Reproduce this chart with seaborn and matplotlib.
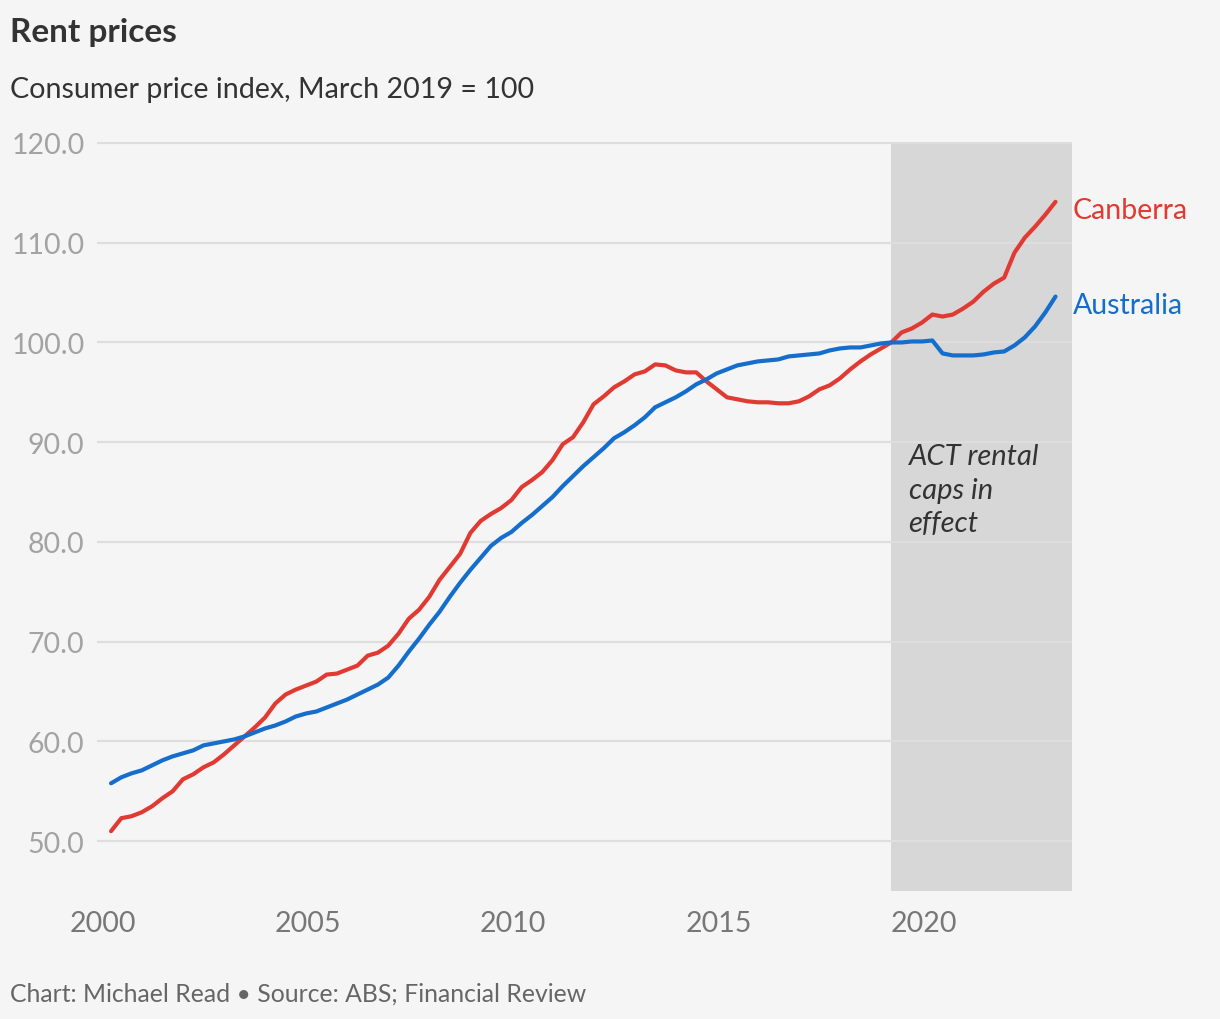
import pandas as pd
import numpy as np
import seaborn as sns
import matplotlib.pyplot as plt

# -----------------------------------------------
# Data: rent CPI, quarterly Mar 2000 - Mar 2023 (Mar 2019 = 100)
# -----------------------------------------------
canberra = [
    51.0, 52.3, 52.5, 52.9,
    53.5, 54.3, 55.0, 56.2,
    56.7, 57.4, 57.9, 58.7,
    59.6, 60.5, 61.4, 62.4,
    63.8, 64.7, 65.2, 65.6,
    66.0, 66.7, 66.8, 67.2,
    67.6, 68.6, 68.9, 69.6,
    70.8, 72.3, 73.2, 74.5,
    76.2, 77.5, 78.8, 80.9,
    82.1, 82.8, 83.4, 84.2,
    85.5, 86.2, 87.0, 88.2,
    89.8, 90.5, 92.0, 93.8,
    94.6, 95.5, 96.1, 96.8,
    97.1, 97.8, 97.7, 97.2,
    97.0, 97.0, 96.1, 95.3,
    94.5, 94.3, 94.1, 94.0,
    94.0, 93.9, 93.9, 94.1,
    94.6, 95.3, 95.7, 96.4,
    97.3, 98.1, 98.8, 99.4,
    100.0, 101.0, 101.4, 102.0,
    102.8, 102.6, 102.8, 103.4,
    104.1, 105.1, 105.9, 106.5,
    109.0, 110.5, 111.6, 112.8,
    114.1,
]

australia = [
    55.8, 56.4, 56.8, 57.1,
    57.6, 58.1, 58.5, 58.8,
    59.1, 59.6, 59.8, 60.0,
    60.2, 60.5, 60.9, 61.3,
    61.6, 62.0, 62.5, 62.8,
    63.0, 63.4, 63.8, 64.2,
    64.7, 65.2, 65.7, 66.4,
    67.6, 69.0, 70.3, 71.7,
    73.0, 74.5, 75.9, 77.2,
    78.4, 79.6, 80.4, 81.0,
    81.9, 82.7, 83.6, 84.5,
    85.6, 86.6, 87.6, 88.5,
    89.4, 90.4, 91.0, 91.7,
    92.5, 93.5, 94.0, 94.5,
    95.1, 95.8, 96.3, 96.9,
    97.3, 97.7, 97.9, 98.1,
    98.2, 98.3, 98.6, 98.7,
    98.8, 98.9, 99.2, 99.4,
    99.5, 99.5, 99.7, 99.9,
    100.0, 100.0, 100.1, 100.1,
    100.2, 98.9, 98.7, 98.7,
    98.7, 98.8, 99.0, 99.1,
    99.7, 100.5, 101.6, 103.0,
    104.6,
]

quarters = pd.date_range("2000-03-01", periods=len(canberra), freq="QS-MAR")
x_years = quarters.year + (quarters.month - 0.5) / 12

x_ticks = [2000, 2005, 2010, 2015, 2020]
y_ticks = [50, 60, 70, 80, 90, 100, 110, 120]
caps_start = 2019 + 2.5 / 12

df = pd.DataFrame({
    "year": np.concatenate([x_years, x_years]),
    "index": canberra + australia,
    "region": ["Canberra"] * len(canberra) + ["Australia"] * len(australia),
})

RED = "#e03a32"
BLUE = "#156ecb"
BG = "#f5f5f5"

# -----------------------------------------------
# Plot
# -----------------------------------------------
sns.set_theme(style="white")
plt.rcParams["font.family"] = ["Lato", "DejaVu Sans"]

fig = plt.figure(figsize=(12.2, 10.2), dpi=100, facecolor=BG)
ax = fig.add_axes([97 / 1220, 1 - 892 / 1020, (1072 - 97) / 1220, (892 - 143) / 1020])
ax.set_facecolor(BG)

x_left, x_right = 1999.866, 2023.61
ax.axvspan(caps_start, x_right, color="#d7d7d7", lw=0, zorder=0)

for yv in y_ticks:
    ax.axhline(yv, color="#dedede", lw=1.6, zorder=1)

sns.lineplot(data=df, x="year", y="index", hue="region",
             palette={"Canberra": RED, "Australia": BLUE},
             linewidth=3.0, legend=False, ax=ax, zorder=3)

ax.set_xlim(x_left, x_right)
ax.set_ylim(45, 120.1)
ax.set_xticks(x_ticks)
ax.set_xticklabels([str(t) for t in x_ticks])
ax.set_yticks(y_ticks)
ax.set_yticklabels([f"{v:.1f}" for v in y_ticks])
ax.tick_params(axis="y", length=0, pad=9, labelsize=20.5, labelcolor="#a3a3a3")
ax.tick_params(axis="x", length=0, pad=14, labelsize=20.5, labelcolor="#777777")
ax.set_xlabel("")
ax.set_ylabel("")
for s in ax.spines.values():
    s.set_visible(False)

# end labels
ax.annotate("Canberra", xy=(1.001, (canberra[-1] - 45) / 75.1), xycoords="axes fraction",
            xytext=(0, -6), textcoords="offset points",
            color=RED, fontsize=20.5, va="center", ha="left")
ax.annotate("Australia", xy=(1.001, (australia[-1] - 45) / 75.1), xycoords="axes fraction",
            xytext=(0, -6), textcoords="offset points",
            color=BLUE, fontsize=20.5, va="center", ha="left")

ax.text(caps_start + 0.42, 89.9, "ACT rental\ncaps in\neffect", color="#333333",
        fontsize=21, style="italic", va="top", ha="left", linespacing=1.36)

# titles / footer
fig.text(10 / 1220, 1 - 42 / 1020, "Rent prices", fontsize=24, fontweight="bold",
         color="#333333", va="baseline")
fig.text(10 / 1220, 1 - 98 / 1020, "Consumer price index, March 2019 = 100",
         fontsize=20.6, color="#333333", va="baseline")
fig.text(10 / 1220, 1 - 1002 / 1020, "Chart: Michael Read \u2022 Source: ABS; Financial Review",
         fontsize=17.8, color="#666666", va="baseline")

fig.savefig("out.png", dpi=100, facecolor=BG)
